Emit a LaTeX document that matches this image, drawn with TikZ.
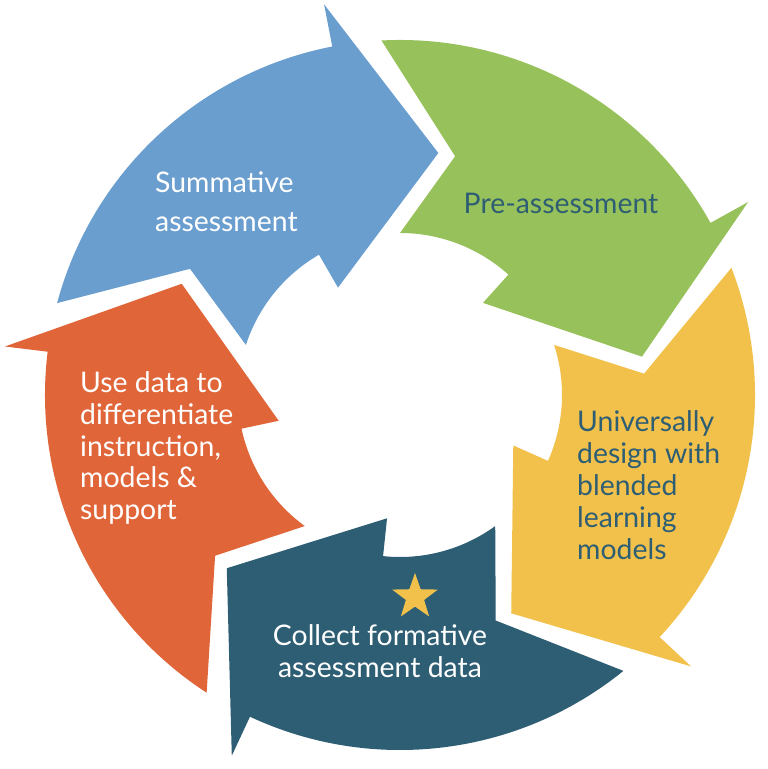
\documentclass[tikz,border=0pt]{standalone}
\usepackage{fontspec}
\setmainfont{Lato}
\usetikzlibrary{calc,shapes.geometric}
\definecolor{cblue}{HTML}{6A9ECF}
\definecolor{cgreen}{HTML}{97C15A}
\definecolor{cyellow}{HTML}{F2C14B}
\definecolor{cdark}{HTML}{2E5E74}
\definecolor{corange}{HTML}{E0663A}
\begin{document}
\begin{tikzpicture}[x=1bp,y=1bp,
  lbl/.style={font=\fontsize{28.5}{32}\selectfont,align=left,inner sep=0pt}]
\useasboundingbox (0,0) rectangle (768,769);
\coordinate (C) at (400,374);
\foreach \b/\c in {164/cblue,92/cgreen,20/cyellow,308/cdark,236/corange}{
  \fill[\c] ($(C)+(\b+1:355)$) arc[start angle=\b+1,end angle=\b-63,radius=355bp]
    -- ($(C)+(\b-63:398)$) -- ($(C)+(\b-83:245)$) -- ($(C)+(\b-44:124)$)
    -- ($(C)+(\b-44:162)$) arc[start angle=\b-44,end angle=\b-2,radius=162bp]
    -- ($(C)+(\b-15:245)$) -- cycle;
}
\node[lbl,white,anchor=west,font=\fontsize{28.5}{39}\selectfont] (t1) at (155,567) {Summative\\assessment};
\node[lbl,cdark] (t2) at (561,566) {Pre-assessment};
\node[lbl,cdark,anchor=west] (t3) at (577,284) {Universally\\design with\\blended\\learning\\models};
\node[lbl,white,align=center] (t4) at (380,118) {Collect formative\\assessment data};
\node[lbl,white,anchor=west] (t5) at (80,321) {Use data to\\differentiate\\instruction,\\models \&\\support};
\node[star,star points=5,star point ratio=2.5,fill=cyellow,minimum size=48bp,inner sep=0pt] (s) at (415,172) {};
\end{tikzpicture}
\end{document}
